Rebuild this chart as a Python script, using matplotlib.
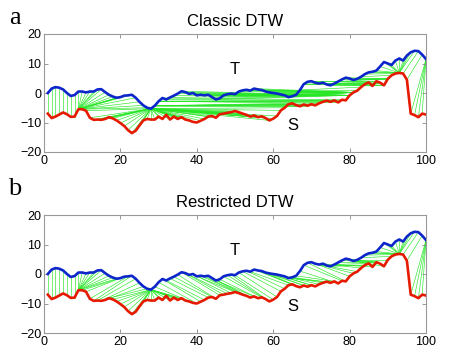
import numpy as np
import matplotlib
matplotlib.use("Agg")
import matplotlib.pyplot as plt

# ---- data ----
x = np.arange(1, 101)
T_vals = [0, 1.5, 2.0, 1.8, 1.2, 0, -1, -0.7, 0.5, 0.5,
          0.2, 0.5, 0.5, 1.2, 1.3, 0.3, -0.6, -1.2, -1.6, -1.4,
          -0.9, -0.8, -0.6, -1.6, -3, -4.2, -5.0, -5.3, -4.3, -2.8,
          -1.7, -2.2, -1.5, -0.9, -0.2, 0.6, 0.3, -0.3, 0, -0.8,
          -0.6, -0.8, -0.6, -1.4, -2.2, -1.8, -0.8, -0.4, -0.2, -0.4,
          0.5, 0.9, 1.1, 0.8, 1.5, 1.2, 1.0, 0.5, 0.2, 0,
          -0.2, -0.5, -0.8, -1.4, -1.1, -0.6, 1, 3, 3.8, 4.0,
          3.5, 3.2, 3.5, 2.9, 2.6, 3.2, 3.9, 4.6, 5.2, 4.9,
          4.4, 4.8, 5.5, 6.4, 7.0, 7.2, 7.6, 9.0, 10.5, 10.0,
          9.5, 11, 11.7, 11.0, 12.7, 13.8, 14.3, 14.2, 13.0, 11.5]
S_vals = [-7, -8.5, -8, -7.3, -6.6, -7.2, -8.1, -8.0, -5.5, -5.5,
          -6, -8.4, -9.1, -9.0, -9.1, -8.8, -8.2, -8.6, -9.3, -10.2,
          -11.2, -12.6, -13.6, -12.8, -11, -9.3, -8.8, -9.0, -9.0, -8.0,
          -8.8, -7.4, -9.0, -8.0, -8.8, -8.2, -9.0, -9.3, -9.8, -10,
          -9.4, -8.8, -8.0, -7.8, -8.4, -7.2, -7, -6.7, -6.5, -6.1,
          -6.5, -7, -7.4, -8, -7.6, -8.2, -7.9, -8.5, -9.3, -8.7,
          -7.8, -5.9, -5, -3.8, -3.5, -4.1, -4.5, -3.9, -4.3, -3.8,
          -4.2, -3.5, -3, -2.6, -3.0, -2.5, -3.2, -2.3, -2.5, -0.8,
          0.2, 0.8, 2, 3, 3.6, 2.4, 4.0, 3.5, 2.6, 4.8,
          6.0, 6.6, 6.8, 6.6, 4.5, -7, -7.5, -8.2, -7, -7.3]
T = np.array(T_vals)
S = np.array(S_vals)
titles = ["Classic DTW", "Restricted DTW"]
panel_letters = ["a", "b"]
windows = [None, 10]   # DTW window (None = unconstrained)


def dtw_path(a, b, w=None):
    n, m = len(a), len(b)
    D = np.full((n + 1, m + 1), np.inf)
    D[0, 0] = 0.0
    for i in range(1, n + 1):
        lo, hi = 1, m
        if w is not None:
            lo, hi = max(1, i - w), min(m, i + w)
        for j in range(lo, hi + 1):
            c = (a[i - 1] - b[j - 1]) ** 2
            D[i, j] = c + min(D[i - 1, j], D[i, j - 1], D[i - 1, j - 1])
    i, j = n, m
    path = [(i - 1, j - 1)]
    while i > 1 or j > 1:
        opts = [(D[i - 1, j - 1], i - 1, j - 1), (D[i - 1, j], i - 1, j), (D[i, j - 1], i, j - 1)]
        _, i, j = min(opts, key=lambda t: t[0])
        path.append((i - 1, j - 1))
    return path[::-1]


fig = plt.figure(figsize=(4.74, 3.61), dpi=100)
positions = [[44/474, 1-152/361, 382/474, 118/361],
             [44/474, 1-333/361, 382/474, 118/361]]
letter_y = [18, 189]

for k in range(2):
    ax = fig.add_axes(positions[k])
    path = dtw_path(T, S, windows[k])
    for (i, j) in path:
        ax.plot([x[i], x[j]], [T[i], S[j]], color=(0.15, 0.9, 0.15), lw=0.45, zorder=1)
    ax.plot(x, S, color=(0.9, 0.1, 0.0), lw=1.9, zorder=2)
    ax.plot(x, T, color=(0.05, 0.15, 0.8), lw=1.9, zorder=3)
    ax.set_xlim(0, 100)
    ax.set_ylim(-20, 20)
    ax.set_xticks([0, 20, 40, 60, 80, 100])
    ax.set_yticks([-20, -10, 0, 10, 20])
    ax.tick_params(direction="in", length=3, width=0.6, color="#888888",
                   top=True, right=True, labelsize=9, pad=2)
    for lab in ax.get_xticklabels() + ax.get_yticklabels():
        lab.set_family("Liberation Sans")
    for sp in ax.spines.values():
        sp.set_color("#999999")
        sp.set_linewidth(0.8)
    ax.set_title(titles[k], fontsize=12, family="Liberation Sans", pad=6)
    ax.text(50, 8, "T", fontsize=12, family="Liberation Sans", ha="center", va="center")
    ax.text(65, -11, "S", fontsize=12, family="Liberation Sans", ha="center", va="center")
    fig.text(15/474, 1 - letter_y[k]/361, panel_letters[k], fontsize=19,
             family="Liberation Serif", ha="center", va="center")

fig.savefig("out.png", dpi=100)
